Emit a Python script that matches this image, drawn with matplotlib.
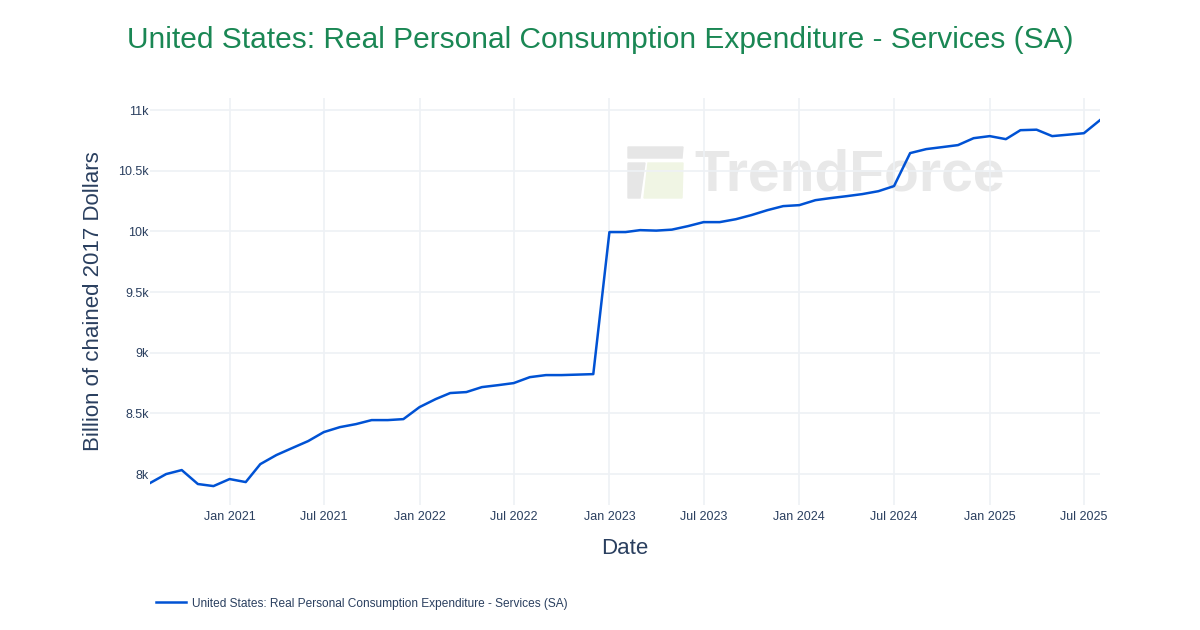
import matplotlib
matplotlib.use("Agg")
import matplotlib.pyplot as plt
import matplotlib.dates as mdates
import pandas as pd
from matplotlib.patches import Polygon

plt.rcParams['font.family'] = ['Liberation Sans', 'DejaVu Sans']

# monthly values, Aug 2020 .. Aug 2025 (billion of chained 2017 dollars)
start_month = "2020-08-01"
values = [
    7926, 8000, 8033, 7918, 7901,                                # 2020 Aug-Dec
    7959, 7934, 8082, 8157, 8214, 8272, 8346, 8387, 8412, 8445, 8445, 8453,   # 2021
    8552, 8618, 8668, 8676, 8717, 8733, 8750, 8799, 8816, 8816, 8820, 8824,   # 2022
    9995, 9995, 10011, 10007, 10015, 10044, 10077, 10077, 10101, 10135, 10176, 10209,  # 2023
    10217, 10258, 10275, 10291, 10308, 10332, 10374, 10646, 10679, 10695, 10712, 10769,  # 2024
    10786, 10761, 10835, 10839, 10786, 10798, 10810, 10918,      # 2025 Jan-Aug
]
dates = pd.date_range(start_month, periods=len(values), freq="MS")

title = "United States: Real Personal Consumption Expenditure - Services (SA)"
y_ticks = [8000, 8500, 9000, 9500, 10000, 10500, 11000]
y_tick_labels = ["8k", "8.5k", "9k", "9.5k", "10k", "10.5k", "11k"]

text_col = "#2a3f5f"
grid_col = "#eef1f5"
line_col = "#0052d4"

fig = plt.figure(figsize=(12, 6.3), dpi=100)
ax = fig.add_axes([0.125, 0.1984, 0.7917, 0.646])

ax.plot(dates, values, color=line_col, linewidth=1.8, zorder=3, label=title)

ax.set_xlim(dates[0], dates[-1])
ax.set_ylim(7745, 11100)
ax.set_yticks(y_ticks)
ax.set_yticklabels(y_tick_labels)

ax.xaxis.set_major_locator(mdates.MonthLocator(bymonth=[1, 7]))
ax.xaxis.set_major_formatter(mdates.DateFormatter("%b %Y"))

for s in ax.spines.values():
    s.set_visible(False)
ax.grid(True, color=grid_col, linewidth=1.2, zorder=0)
ax.tick_params(axis="both", length=0, labelsize=9, colors=text_col)
ax.tick_params(axis="x", pad=4)
ax.tick_params(axis="y", pad=1)

ax.set_xlabel("Date", fontsize=16, color=text_col, labelpad=11)
ax.set_ylabel("Billion of chained 2017 Dollars", fontsize=16, color=text_col, labelpad=10)

fig.text(0.5, 0.937, title, ha="center", va="center", fontsize=21.5, color="#1a8754")

# watermark (behind the line)
ax.text(0.708, 0.722, "TrendForce", ha="center", va="center", fontsize=41,
        fontweight="bold", color="#e8e8e8", zorder=1, transform=fig.transFigure)
W, H = 1200, 630
def px(pts):
    return [(x / W, 1 - y / H) for x, y in pts]
for pts, col in [([(628, 147), (683, 147), (682, 158), (628, 158)], "#e6e6e6"),
                 ([(628, 163), (645, 163), (640, 198), (628, 198)], "#e6e6e6"),
                 ([(648, 163), (683, 163), (682, 198), (644, 198)], "#f0f5e4")]:
    ax.add_patch(Polygon(px(pts), closed=True, transform=fig.transFigure,
                         color=col, zorder=1, clip_on=False))

leg = fig.legend(loc="center left", bbox_to_anchor=(0.121, 0.042), frameon=False,
                 fontsize=8.6, handlelength=2.5, handletextpad=0.5)
for t in leg.get_texts():
    t.set_color(text_col)

fig.savefig("out.png", dpi=100)
